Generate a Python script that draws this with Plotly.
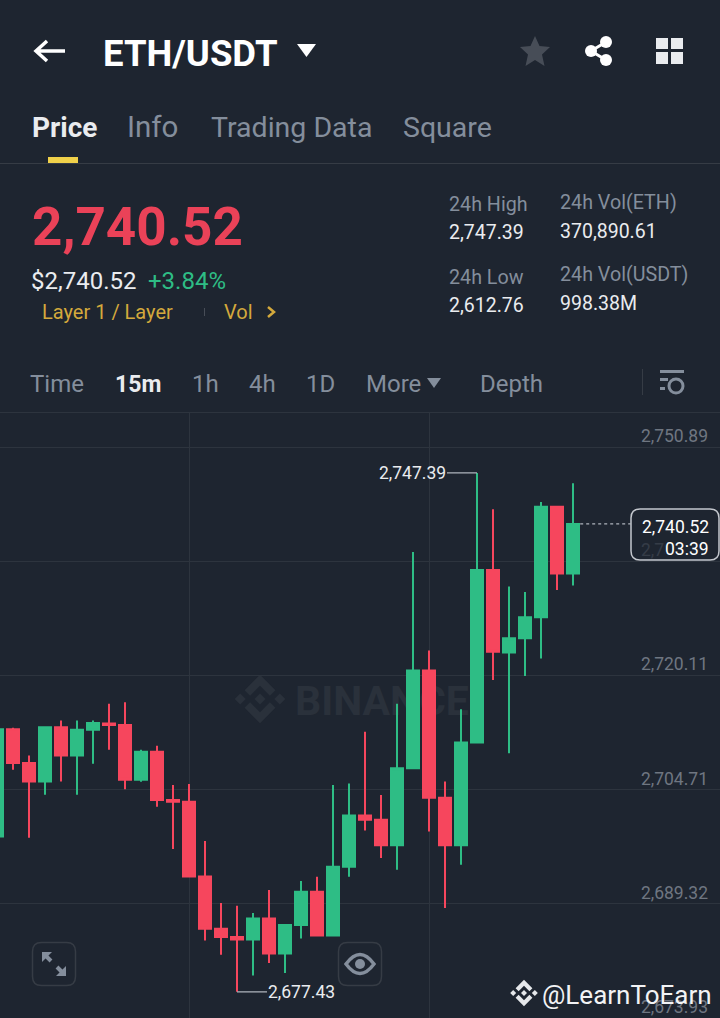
import plotly.graph_objects as go

candle_index = list(range(-1, 36))
opens = [2698.38,2712.82,2708.27,2705.79,2713.12,2709.29,2712.76,2713.60,2713.39,2706.02,2709.79,2703.28,2703.05,2692.99,2685.94,2684.82,2684.50,2687.33,2682.61,2686.44,2690.92,2685.04,2694.29,2701.21,2700.63,2697.19,2707.57,2720.75,2703.59,2697.19,2711.04,2734.32,2723.17,2725.11,2727.94,2742.85,2733.82]
closes = [2712.82,2708.27,2705.79,2713.12,2709.29,2712.76,2713.66,2713.39,2706.02,2709.79,2703.28,2703.05,2692.99,2685.94,2684.82,2684.50,2687.33,2682.61,2686.44,2690.92,2685.04,2694.29,2701.21,2700.63,2697.19,2707.57,2720.75,2703.59,2697.19,2711.04,2734.32,2723.27,2725.11,2727.94,2742.85,2733.82,2740.52]
highs = [2712.82,2713.02,2709.29,2713.12,2714.01,2714.01,2714.01,2716.26,2716.49,2710.06,2710.60,2705.30,2705.44,2697.76,2689.40,2689.04,2688.05,2691.15,2686.44,2692.37,2692.95,2705.30,2705.52,2712.49,2703.96,2716.26,2736.74,2723.44,2705.79,2715.54,2747.39,2742.50,2732.07,2731.35,2743.48,2742.85,2746.00]
lows = [2698.38,2707.36,2698.20,2704.00,2705.79,2704.00,2708.17,2710.06,2704.76,2705.75,2702.38,2696.68,2692.99,2684.36,2682.43,2677.43,2679.64,2681.32,2679.97,2684.63,2685.04,2685.04,2692.95,2699.18,2695.47,2693.89,2707.57,2699.05,2688.73,2694.56,2711.04,2719.49,2709.61,2720.03,2722.36,2731.62,2732.20]
price_ticks = [2750.89, 2735.50, 2720.11, 2704.71, 2689.32, 2673.93]
price_labels = ["2,750.89", "2,735.50", "2,720.11", "2,704.71", "2,689.32", "2,673.93"]
vgrid_index = [11, 26]
last_price = 2740.52
day_high = 2747.39
day_low = 2677.43
high_index = 29
low_index = 14

BG = "#1E2530"; GRID = "#2D343E"; GREEN = "#2EBD85"; RED = "#F6465D"
WHITE = "#EAECEF"; GRAY = "#848E9C"; TICK = "#6F7681"; GOLD = "#D4A93C"; DIM = "#2A313B"
W, H = 720, 1018
FONT = "Roboto"

fx = lambda x: x / W
fy = lambda y: 1 - y / H

def text(s, x, y, size, color=GRAY, anchor="left", **kw):
    return dict(text=s, x=fx(x), y=fy(y), xref="paper", yref="paper", xanchor=anchor, yanchor="middle",
                showarrow=False, borderpad=0, borderwidth=0, font=dict(family=FONT, size=size, color=color), **kw)

def path(cmds, fill=None, line=None, lw=0, layer="above"):
    out = []
    for c in cmds:
        if len(c) == 1:
            out.append(c[0])
        else:
            nums = c[1:]
            pts = " ".join(f"{fx(nums[i]):.5f},{fy(nums[i+1]):.5f}" for i in range(0, len(nums), 2))
            out.append(f"{c[0]} {pts}")
    return dict(type="path", xref="paper", yref="paper", path=" ".join(out), fillcolor=fill or "rgba(0,0,0,0)",
                line=dict(color=line or "rgba(0,0,0,0)", width=lw), layer=layer)

def poly(pts, **kw):
    cmds = [("M", *pts[0])] + [("L", *p) for p in pts[1:]] + [("Z",)]
    return path(cmds, **kw)

def rrect(x0, y0, x1, y1, r, **kw):
    return path([("M", x0 + r, y0), ("L", x1 - r, y0), ("Q", x1, y0, x1, y0 + r), ("L", x1, y1 - r), ("Q", x1, y1, x1 - r, y1),
                 ("L", x0 + r, y1), ("Q", x0, y1, x0, y1 - r), ("L", x0, y0 + r), ("Q", x0, y0, x0 + r, y0), ("Z",)], **kw)

def seg(x0, y0, x1, y1, color, width):
    return dict(type="line", xref="paper", yref="paper", x0=fx(x0), y0=fy(y0), x1=fx(x1), y1=fy(y1), line=dict(color=color, width=width))

def dot(cx, cy, r, color):
    return dict(type="circle", xref="paper", yref="paper", x0=fx(cx - r), x1=fx(cx + r), y0=fy(cy - r), y1=fy(cy + r),
                fillcolor=color, line=dict(width=0))

def logo(cx, cy, s, color, layer="above"):
    d = lambda x, y, r: poly([(cx + x * s, cy + (y - r) * s), (cx + (x + r) * s, cy + y * s), (cx + x * s, cy + (y + r) * s), (cx + (x - r) * s, cy + y * s)], fill=color, layer=layer)
    top = [(-14, -8), (0, -22), (14, -8), (9, -3), (0, -12), (-9, -3)]
    bot = [(-14, 8), (0, 22), (14, 8), (9, 3), (0, 12), (-9, 3)]
    return [d(0, 0, 5), d(-18, 0, 5), d(18, 0, 5),
            poly([(cx + a * s, cy + b * s) for a, b in top], fill=color, layer=layer),
            poly([(cx + a * s, cy + b * s) for a, b in bot], fill=color, layer=layer)]

fig = go.Figure(go.Candlestick(
    x=candle_index, open=opens, high=highs, low=lows, close=closes,
    increasing=dict(line=dict(color=GREEN, width=2), fillcolor=GREEN),
    decreasing=dict(line=dict(color=RED, width=2), fillcolor=RED),
    hoverinfo="skip", showlegend=False))

annotations = [
    text("<b>ETH/USDT</b>", 103, 53, 36.5, "#FFFFFF"),
    text("<b>Price</b>", 32, 127, 28, WHITE),
    text("Info", 127, 127, 29.5), text("Trading Data", 211, 127, 28.5), text("Square", 403, 127, 28.5),
    text("<b>2,740.52</b>", 32, 227, 53, "#EA4258"),
    text("$2,740.52", 31, 281, 24, WHITE), text("+3.84%", 148, 281, 24, GREEN),
    text("Layer 1 / Layer", 42, 312, 20, GOLD), text("Vol", 224, 312, 20, GOLD),
    text("24h High", 449, 205, 19.7), text("2,747.39", 449, 233, 19.5, WHITE),
    text("24h Low", 449, 277, 19.7), text("2,612.76", 449, 305, 19.5, WHITE),
    text("24h Vol(ETH)", 560, 202, 19.7), text("370,890.61", 560, 231, 19.5, WHITE),
    text("24h Vol(USDT)", 560, 275, 19.7), text("998.38M", 560, 303, 19.5, WHITE),
    text("Time", 30, 384, 24), text("<b>15m</b>", 115, 384, 23, WHITE), text("1h", 192, 384, 24),
    text("4h", 249, 384, 24), text("1D", 306, 384, 24), text("More", 366, 384, 24), text("Depth", 480, 384, 24),
    text("@LearnToEarn", 542, 995, 26, "#F2F3F5"),
    text("2,740.52", 709, 527, 17.5, "#FFFFFF", anchor="right"),
    text("03:39", 709, 549, 17.5, "#FFFFFF", anchor="right", bgcolor=BG),
    dict(text="2,747.39", x=high_index, y=day_high, xref="x", yref="y", xanchor="right", yanchor="middle", showarrow=True,
         arrowhead=0, arrowwidth=1.2, arrowcolor="#AEB4BC", ax=-30, ay=0, borderpad=0, font=dict(family=FONT, size=17.5, color=WHITE)),
    dict(text="2,677.43", x=low_index, y=day_low, xref="x", yref="y", xanchor="left", yanchor="middle", showarrow=True,
         arrowhead=0, arrowwidth=1.2, arrowcolor="#AEB4BC", ax=30, ay=0, borderpad=0, font=dict(family=FONT, size=17.5, color=WHITE)),
]

shapes = [
    seg(0, 163.5, 720, 163.5, "#363C45", 1),
    seg(0, 412.5, 720, 412.5, "#2D343E", 1),
    poly([(48, 157), (78, 157), (78, 163), (48, 163)], fill="#F0D14A"),
    # back arrow
    path([("M", 36, 51), ("L", 65, 51), ("M", 47, 41), ("L", 36, 51), ("L", 47, 61)], line="#FFFFFF", lw=3.5),
    poly([(297, 44), (316, 44), (306.5, 57)], fill="#FFFFFF"),
    # star
    poly([(535, 36), (539.5, 46), (550, 47), (542, 54.5), (544.5, 66), (535, 60), (525.5, 66), (528, 54.5), (520, 47), (530.5, 46)], fill="#474D57"),
    # share
    path([("M", 606, 42), ("L", 591, 51), ("L", 606, 60)], line="#FFFFFF", lw=3),
    dot(606, 42, 6, "#FFFFFF"), dot(591, 51, 6, "#FFFFFF"), dot(606, 60, 6, "#FFFFFF"),
    # grid icon
    poly([(656, 38), (668, 38), (668, 49), (656, 49)], fill=WHITE), poly([(671, 38), (683, 38), (683, 49), (671, 49)], fill=WHITE),
    poly([(656, 52), (668, 52), (668, 64), (656, 64)], fill=WHITE), poly([(671, 52), (683, 52), (683, 64), (671, 64)], fill=WHITE),
    # small marks
    path([("M", 268, 307), ("L", 274, 312), ("L", 268, 317)], line=GOLD, lw=2.5),
    seg(204.5, 308, 204.5, 316, "#474D57", 1),
    poly([(427, 378), (441, 378), (434, 388)], fill=GRAY),
    seg(642.5, 369, 642.5, 395, "#363C45", 1),
    # settings icon
    poly([(660, 370), (684, 370), (684, 373), (660, 373)], fill=GRAY),
    poly([(660, 378), (668, 378), (668, 381), (660, 381)], fill=GRAY),
    poly([(660, 387), (665, 387), (665, 390), (660, 390)], fill=GRAY),
    dict(type="circle", xref="paper", yref="paper", x0=fx(669), x1=fx(683), y0=fy(393), y1=fy(379), fillcolor="rgba(0,0,0,0)", line=dict(color=GRAY, width=3)),
    # chart buttons
    rrect(32.5, 942.5, 75.5, 985.5, 9, line="#363C45", lw=1.5, fill=BG),
    rrect(338.5, 942.5, 381.5, 985.5, 9, line="#363C45", lw=1.5, fill=BG),
    poly([(42, 952), (52, 952), (42, 962)], fill=GRAY), poly([(66, 976), (56, 976), (66, 966)], fill=GRAY),
    path([("M", 45, 955), ("L", 51, 961), ("M", 57, 967), ("L", 63, 973)], line=GRAY, lw=4),
    path([("M", 346, 964), ("Q", 360, 945, 374, 964), ("Q", 360, 983, 346, 964), ("Z",)], line=GRAY, lw=3.5),
    dot(360, 964, 5, GRAY),
    # current-price leader and tag
    dict(type="line", xref="x", yref="y", x0=35.45, x1=38.6, y0=last_price, y1=last_price, line=dict(color="#AEB4BC", width=1.2, dash="3px,3px")),
    rrect(631, 509, 719, 560, 9, line="#C4C8CE", lw=1.5, fill="rgba(30,37,48,0.72)"),
    # watermark text below the candles
    dict(type="rect", xref="paper", yref="paper", x0=fx(292), x1=fx(480), y0=fy(716), y1=fy(680), layer="below",
         line=dict(width=0), fillcolor="rgba(0,0,0,0)",
         label=dict(text="<b>BINANCE</b>", font=dict(family=FONT, size=41, color=DIM), textposition="middle left", padding=0)),
]
shapes += logo(260, 699, 1.1, DIM, layer="below")
shapes += logo(524, 993, 0.6, "#E6E8EB")

fig.update_layout(
    width=W, height=H, margin=dict(l=0, r=0, t=0, b=0), autosize=False,
    paper_bgcolor=BG, plot_bgcolor=BG, boxgap=0.25, boxgroupgap=0, showlegend=False, dragmode=False,
    font=dict(family=FONT),
    xaxis=dict(range=[-0.8125, 44.1875], domain=[0, 1], tickvals=vgrid_index, showticklabels=False, ticks="",
               showgrid=True, gridcolor=GRID, gridwidth=1, zeroline=False, showline=False,
               rangeslider=dict(visible=False), fixedrange=True),
    yaxis=dict(range=[2673.90, 2755.61], domain=[0, 606 / 1018], side="right", tickmode="array", tickvals=price_ticks,
               ticktext=price_labels, ticklabelposition="inside", ticklabelstandoff=9, ticklabelshift=-11, ticks="",
               tickfont=dict(family=FONT, size=17.5, color=TICK), showgrid=True, gridcolor=GRID, gridwidth=1,
               zeroline=False, showline=False, fixedrange=True),
    annotations=annotations, shapes=shapes,
)

fig.write_html("out.html", config=dict(displayModeBar=False),
               post_script=f"document.body.style.margin='0';document.body.style.background='{BG}';document.documentElement.style.overflow='hidden';")
